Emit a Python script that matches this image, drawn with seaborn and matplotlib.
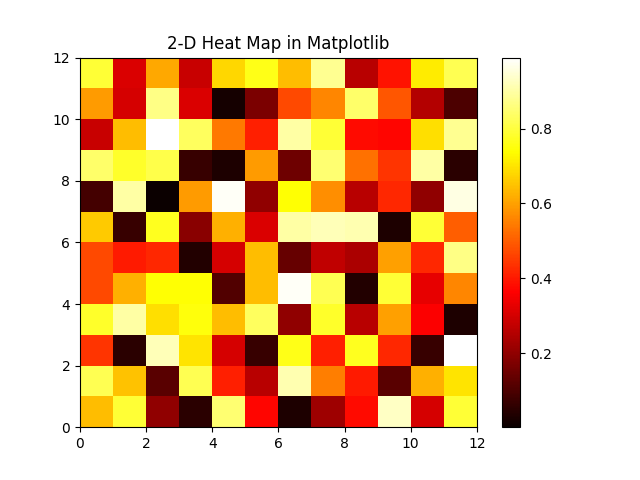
#!/usr/bin/env python3

import matplotlib
matplotlib.use("Agg")
import matplotlib.pyplot as plt
import seaborn as sns
import numpy as np

# values, row_0 is the bottom row (y 0-1)
row_0 = [0.64, 0.79, 0.20, 0.05, 0.85, 0.37, 0.03, 0.22, 0.38, 0.93, 0.30, 0.79]
row_1 = [0.82, 0.65, 0.12, 0.82, 0.41, 0.26, 0.91, 0.55, 0.40, 0.12, 0.62, 0.70]
row_2 = [0.44, 0.05, 0.92, 0.70, 0.30, 0.07, 0.76, 0.41, 0.77, 0.42, 0.07, 0.99]
row_3 = [0.78, 0.90, 0.69, 0.75, 0.64, 0.83, 0.20, 0.78, 0.26, 0.60, 0.36, 0.03]
row_4 = [0.47, 0.62, 0.74, 0.74, 0.11, 0.64, 0.98, 0.82, 0.04, 0.79, 0.33, 0.56]
row_5 = [0.47, 0.40, 0.42, 0.04, 0.30, 0.64, 0.14, 0.27, 0.24, 0.60, 0.42, 0.87]
row_6 = [0.66, 0.07, 0.77, 0.19, 0.62, 0.31, 0.90, 0.92, 0.91, 0.03, 0.79, 0.50]
row_7 = [0.09, 0.90, 0.002, 0.59, 0.98, 0.20, 0.74, 0.57, 0.26, 0.42, 0.20, 0.96]
row_8 = [0.84, 0.78, 0.81, 0.07, 0.03, 0.59, 0.15, 0.85, 0.53, 0.44, 0.90, 0.05]
row_9 = [0.28, 0.64, 0.99, 0.83, 0.54, 0.41, 0.90, 0.79, 0.38, 0.37, 0.69, 0.88]
row_10 = [0.59, 0.30, 0.87, 0.31, 0.02, 0.17, 0.47, 0.56, 0.84, 0.49, 0.25, 0.10]
row_11 = [0.79, 0.31, 0.61, 0.28, 0.68, 0.76, 0.64, 0.88, 0.26, 0.39, 0.71, 0.82]

ticks = [0, 2, 4, 6, 8, 10, 12]
cbar_ticks = [0.2, 0.4, 0.6, 0.8]

data = np.array([row_0, row_1, row_2, row_3, row_4, row_5,
                 row_6, row_7, row_8, row_9, row_10, row_11])

fig, ax = plt.subplots(figsize=(6.4, 4.8), dpi=100)
sns.heatmap(data, cmap="hot", ax=ax, square=False, cbar=True,
            xticklabels=False, yticklabels=False, linewidths=0)

# seaborn flips y and hides the frame, put both back
ax.invert_yaxis()
ax.set_xticks(ticks, labels=[str(t) for t in ticks])
ax.set_yticks(ticks, labels=[str(t) for t in ticks], rotation=0)
ax.tick_params(axis="both", length=3.5, width=0.8, labelsize=10)
for spine in ax.spines.values():
    spine.set_visible(True)
    spine.set_linewidth(0.8)
    spine.set_color("black")

ax.set_title("2-D Heat Map in Matplotlib")

cbar = ax.collections[0].colorbar
cbar.set_ticks(cbar_ticks)
cbar.outline.set_visible(True)
cbar.outline.set_linewidth(0.8)
cbar.outline.set_edgecolor("black")
cbar.ax.tick_params(length=3.5, width=0.8, labelsize=10)

plt.savefig("out.png", dpi=100)
plt.close()
